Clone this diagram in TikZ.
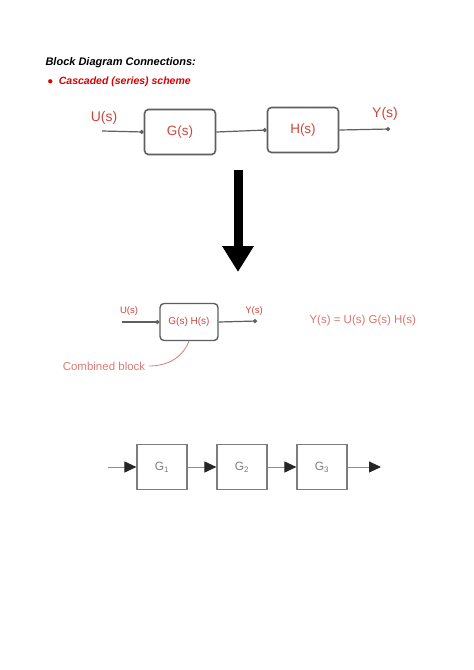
\documentclass[tikz,border=0pt]{standalone}
\usepackage{fontspec}
\setmainfont{Liberation Sans}
\usetikzlibrary{arrows.meta}
\definecolor{hand}{RGB}{205,70,60}
\definecolor{boxgray}{RGB}{95,95,95}
\definecolor{lgray}{RGB}{125,125,125}
\tikzset{
  x=1pt,y=-1pt,
  blk/.style={draw=boxgray,line width=1.6pt,rounded corners=4pt,minimum width=71pt,minimum height=45pt,text=hand,font=\fontsize{13.5}{13.5}\selectfont},
  sblk/.style={draw=boxgray,line width=1.4pt,rounded corners=4pt,minimum width=58pt,minimum height=37pt,inner sep=1pt,text=hand,font=\fontsize{10}{10}\selectfont},
  gblk/.style={draw=lgray,line width=1.2pt,minimum width=50pt,minimum height=45pt,text=lgray,font=\fontsize{12}{12}\selectfont},
  lbl/.style={text=hand,font=\fontsize{14}{14}\selectfont},
  slbl/.style={text=hand,font=\fontsize{9.5}{9.5}\selectfont},
  wire/.style={draw=boxgray,line width=1.2pt},
  dotend/.style={-{Circle[length=4pt]}},
  tri/.style={draw=black!45,line width=1pt,-{Triangle[length=12pt,width=11pt,color=black!85,fill=black!85]}},
}
\begin{document}
\begin{tikzpicture}
\useasboundingbox (0,0) rectangle (474,670);
\fill[white] (0,0) rectangle (474,670);
% header
\node[anchor=west,font=\fontsize{11}{11}\selectfont\bfseries\itshape] (title) at (42,63) {Block Diagram Connections:};
\node[anchor=west,text=red!85!black,font=\fontsize{10.5}{11}\selectfont\bfseries\itshape] (sub) at (44,82) {$\bullet$\ \ Cascaded (series) scheme};
% top row
\node[blk] (G) at (180,132) {G(s)};
\node[blk] (H) at (303,130) {H(s)};
\coordinate (uin) at (102,131);
\coordinate (yout) at (390,129);
\node[lbl] (U) at (104,118) {U(s)};
\node[lbl] (Y) at (385,114) {Y(s)};
\draw[wire,dotend] (uin) -- (G.west);
\draw[wire,dotend] (G.east) -- (H.west);
\draw[wire,dotend] (H.east) -- (yout);
% big arrow
\coordinate (a1) at (238,170);
\coordinate (a2) at (238,272);
\draw[line width=9pt,-{Triangle[length=26pt,width=30pt]}] (a1) -- (a2);
% middle
\node[sblk] (GH) at (189,322) {G(s) H(s)};
\coordinate (uin2) at (122,322);
\coordinate (yout2) at (257,321);
\node[slbl] (U2) at (129,311) {U(s)};
\node[slbl] (Y2) at (254,311) {Y(s)};
\draw[wire,dotend] (uin2) -- (GH.west);
\draw[wire,dotend] (GH.east) -- (yout2);
\node[text=hand!70,font=\fontsize{11.5}{11.5}\selectfont] (comb) at (104,366) {Combined block};
\draw[hand!70,line width=0.8pt] (comb.east) .. controls (170,366) and (183,356) .. (GH.south);
\node[anchor=west,text=hand!75,font=\fontsize{11.5}{11.5}\selectfont] (eq) at (306,321) {Y(s) = U(s) G(s) H(s)};
% bottom
\node[gblk] (G1) at (162,467) {G\textsubscript{1}};
\node[gblk] (G2) at (242,467) {G\textsubscript{2}};
\node[gblk] (G3) at (322,467) {G\textsubscript{3}};
\coordinate (bin) at (108,467);
\coordinate (bout) at (381,467);
\draw[tri] (bin) -- (G1.west);
\draw[tri] (G1.east) -- (G2.west);
\draw[tri] (G2.east) -- (G3.west);
\draw[tri] (G3.east) -- (bout);
\end{tikzpicture}
\end{document}
